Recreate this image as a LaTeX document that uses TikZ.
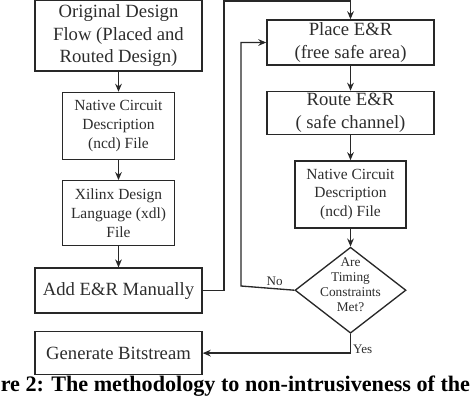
\documentclass[tikz,border=0pt]{standalone}
\usepackage{fontspec}
\setmainfont{Liberation Serif}
\usepackage{xcolor}
\usepackage{tikz}
\usetikzlibrary{shapes.geometric, arrows.meta, positioning}
\definecolor{mydark}{RGB}{45,45,45}
\definecolor{myline}{RGB}{40,40,40}
\tikzset{
  bigbox/.style={rectangle, draw=myline, text=mydark, align=center,
    minimum width=125.25pt, inner sep=0pt, line width=1.1pt,
    font=\fontsize{14}{17}\selectfont},
  smallbox/.style={rectangle, draw=myline, text=mydark, align=center,
    minimum width=84pt, inner sep=0pt, line width=1pt,
    font=\fontsize{11.6}{14}\selectfont},
  decision/.style={diamond, draw=myline, text=mydark, align=center,
    aspect=1.29, minimum width=83.25pt, minimum height=64.5pt,
    inner sep=-18pt, line width=1pt, text depth=8.5pt,
    font=\fontsize{10}{11.3}\selectfont},
  arrow/.style={-{Stealth[length=6pt, width=5pt]}, line width=1pt, color=myline},
  tag/.style={text=mydark, font=\fontsize{9.8}{11}\selectfont, inner sep=1.5pt}
}

\begin{document}
\begin{tikzpicture}[x=0.75pt, y=-0.75pt]
  \useasboundingbox (0,0) rectangle (474,408);

  % Left column
  \node[bigbox, minimum height=52.9pt] (orig) at (118.5,35.75) {Original Design\\Flow (Placed and\\Routed Design)};
  \node[smallbox, minimum height=50.25pt, below=15pt of orig] (ncdL) {Native Circuit\\Description\\(ncd) File};
  \node[smallbox, minimum height=48.75pt, below=15pt of ncdL] (xdl) {Xilinx Design\\Language (xdl)\\File};
  \node[bigbox, minimum height=33.75pt, below=15.75pt of xdl] (addER) {Add E\&R Manually};
  \node[bigbox, minimum height=32.25pt, below=12.75pt of addER] (gen) {Generate Bitstream};

  % Right column
  \node[bigbox, minimum height=33.75pt] (place) at (350.5,42.5) {Place E\&R\\(free safe area)};
  \node[bigbox, minimum height=32.25pt, below=18.75pt of place] (route) {Route E\&R\\( safe channel)};
  \node[smallbox, minimum width=83.25pt, minimum height=50.25pt, below=18.75pt of route] (ncdR) {Native Circuit\\Description\\(ncd) File};
  \node[decision, below=13.5pt of ncdR] (check) {Are\\Timing\\Constraints\\Met?};

  % Caption
  \node[anchor=base west, inner sep=0pt, text=black, font=\fontsize{16.6}{19}\selectfont\bfseries] (caption) at (0.5,391) {re 2: The methodology to non-intrusiveness of the};

  % Turning points
  \coordinate (loopA) at (224,1);
  \coordinate (loopB) at (241,286);

  % Connections
  \draw[arrow] (orig) -- (ncdL);
  \draw[arrow] (ncdL) -- (xdl);
  \draw[arrow] (xdl) -- (addER);
  \draw[arrow] (addER.east) -| (loopA) -| (place.north);
  \draw[arrow] (place) -- (route);
  \draw[arrow] (route) -- (ncdR);
  \draw[arrow] (ncdR) -- (check);
  \draw[arrow] (check.west) -- node[tag, above, pos=0.37] {No} (loopB) |- (place.west);
  \draw[arrow] (check.south) |- node[tag, right, pos=0.4] {Yes} (gen.east);

\end{tikzpicture}
\end{document}
